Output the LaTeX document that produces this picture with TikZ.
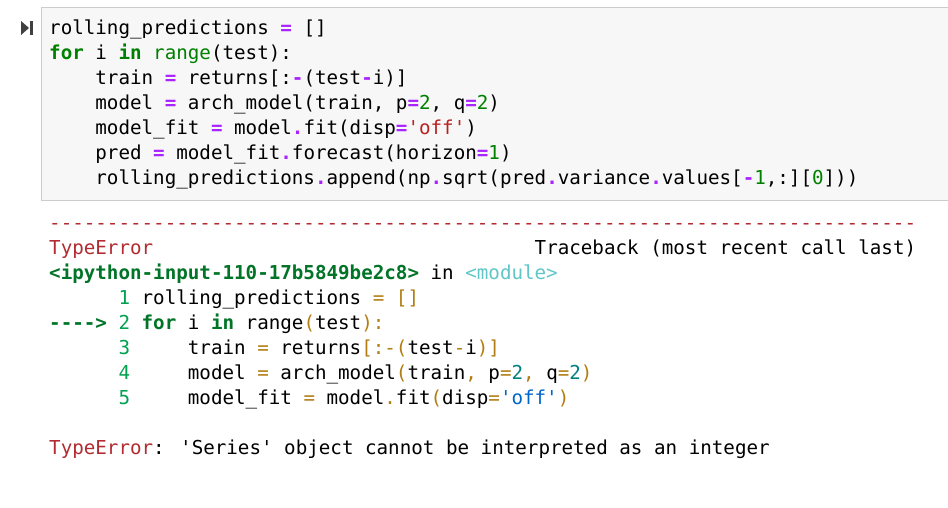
\documentclass[tikz,border=0pt]{standalone}
\usepackage{fontspec}
\newfontfamily\code{DejaVu Sans Mono}[Scale=1]
\definecolor{kw}{HTML}{008000}
\definecolor{op}{HTML}{AA22FF}
\definecolor{st}{HTML}{BA2121}
\definecolor{er}{HTML}{B22B31}
\definecolor{tg}{HTML}{007427}
\definecolor{cy}{HTML}{60C6C8}
\definecolor{nm}{HTML}{00A250}
\definecolor{gd}{HTML}{B27D12}
\definecolor{bs}{HTML}{0065CA}
\newcommand\cK[1]{\textcolor{kw}{\bfseries #1}}
\newcommand\cO[1]{\textcolor{op}{\bfseries #1}}
\newcommand\cN[1]{\textcolor{kw}{#1}}
\newcommand\cS[1]{\textcolor{st}{#1}}
\newcommand\cG[1]{\textcolor{gd}{#1}}
\newcommand\cQ[1]{\textcolor{nm}{#1}}
\begin{document}
\begin{tikzpicture}[x=1pt,y=-1pt,
  ln/.style={anchor=base west,inner sep=0pt,font=\code\fontsize{19.2}{20}\selectfont,text=black}]
\useasboundingbox[fill=white] (0,0) rectangle (948,508);
\draw[fill=black!3,draw=black!20] (41,7) rectangle (960,200);
\fill[black!75] (21,21) -- (21,35) -- (29,28) -- cycle;
\fill[black!75] (30,21) rectangle (33,35);
\node[ln] (a1) at (49,34.5) {rolling\_predictions \cO{=} []};
\node[ln] (a2) at (49,59.5) {\cK{for} i \cK{in} \cN{range}(test):};
\node[ln] (a3) at (49,84.5) {\ \ \ \ train \cO{=} returns[:\cO{-}(test\cO{-}i)]};
\node[ln] (a4) at (49,109.5) {\ \ \ \ model \cO{=} arch\_model(train, p\cO{=}\cN{2}, q\cO{=}\cN{2})};
\node[ln] (a5) at (49,134.5) {\ \ \ \ model\_fit \cO{=} model\cO{.}fit(disp\cO{=}\cS{'off'})};
\node[ln] (a6) at (49,159.5) {\ \ \ \ pred \cO{=} model\_fit\cO{.}forecast(horizon\cO{=}\cN{1})};
\node[ln] (a7) at (49,184.5) {\ \ \ \ rolling\_predictions\cO{.}append(np\cO{.}sqrt(pred\cO{.}variance\cO{.}values[\cO{-}\cN{1},:][\cN{0}]))};
\node[ln,text=er] (b0) at (49,229.5) {---------------------------------------------------------------------------};
\node[ln] (b1) at (49,254.5) {\textcolor{er}{TypeError}\ \ \ \ \ \ \ \ \ \ \ \ \ \ \ \ \ \ \ \ \ \ \ \ \ \ \ \ \ \ \ \ \ Traceback (most recent call last)};
\node[ln] (b2) at (49,279.5) {\textcolor{tg}{\bfseries <ipython-input-110-17b5849be2c8>} in \textcolor{cy}{<module>}};
\node[ln] (b3) at (49,304.5) {\ \ \ \ \ \ \cQ{1} rolling\_predictions \cG{=} \cG{[]}};
\node[ln] (b4) at (49,329.5) {\textcolor{tg}{\bfseries ----> }\cQ{2} \textcolor{tg}{\bfseries for} i \textcolor{tg}{\bfseries in} range\cG{(}test\cG{):}};
\node[ln] (b5) at (49,354.5) {\ \ \ \ \ \ \cQ{3}\ \ \ \ \ train \cG{=} returns\cG{[:-(}test\cG{-}i\cG{)]}};
\node[ln] (b6) at (49,379.5) {\ \ \ \ \ \ \cQ{4}\ \ \ \ \ model \cG{=} arch\_model\cG{(}train\cG{,} p\cG{=}\textcolor{teal}{2}\cG{,} q\cG{=}\textcolor{teal}{2}\cG{)}};
\node[ln] (b7) at (49,404.5) {\ \ \ \ \ \ \cQ{5}\ \ \ \ \ model\_fit \cG{=} model\cG{.}fit\cG{(}disp\cG{=}\textcolor{bs}{'off'}\cG{)}};
\node[ln] (b8) at (49,454.5) {\textcolor{er}{TypeError}: 'Series' object cannot be interpreted as an integer};
\end{tikzpicture}
\end{document}
